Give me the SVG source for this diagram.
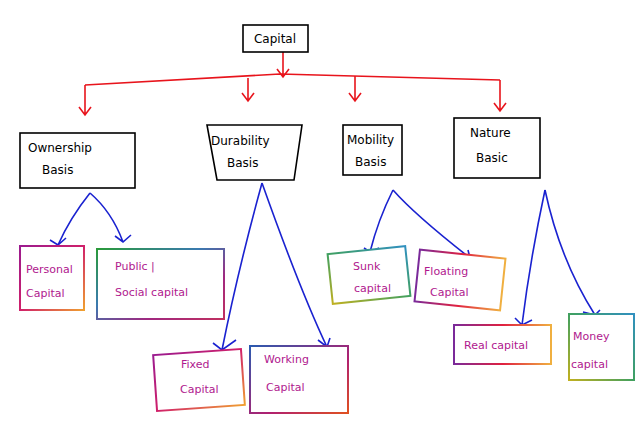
<svg xmlns="http://www.w3.org/2000/svg" width="640" height="426" viewBox="0 0 640 426">
<defs>
<linearGradient id="g1" x1="0" y1="0" x2="1" y2="1"><stop offset="0" stop-color="#9b1b8f"/><stop offset="0.5" stop-color="#d0206a"/><stop offset="1" stop-color="#f0a030"/></linearGradient>
<linearGradient id="g2" x1="0" y1="0" x2="1" y2="1"><stop offset="0" stop-color="#2a9a3a"/><stop offset="0.4" stop-color="#3a7ab0"/><stop offset="0.7" stop-color="#a02880"/><stop offset="1" stop-color="#c03060"/></linearGradient>
<linearGradient id="g3" x1="0" y1="0" x2="1" y2="1"><stop offset="0" stop-color="#2a5ab0"/><stop offset="0.6" stop-color="#b02070"/><stop offset="1" stop-color="#e05020"/></linearGradient>
<linearGradient id="g4" x1="0" y1="0" x2="1" y2="0"><stop offset="0" stop-color="#7a2a9a"/><stop offset="0.5" stop-color="#e02040"/><stop offset="1" stop-color="#f0b040"/></linearGradient>
<linearGradient id="g5" x1="0" y1="1" x2="1" y2="0"><stop offset="0" stop-color="#c0b020"/><stop offset="0.5" stop-color="#40a060"/><stop offset="1" stop-color="#3090c0"/></linearGradient>
</defs>
<style>
.b{fill:#fff;stroke:#000;stroke-width:1.6}
.l{fill:#fff;stroke-width:2}
.t{font-family:"DejaVu Sans",sans-serif;font-size:12px;fill:#000}
.m{font-family:"DejaVu Sans",sans-serif;font-size:11px;fill:#b0188e}
.r{fill:none;stroke:#e8141c;stroke-width:1.6}
.u{fill:none;stroke:#1a22d0;stroke-width:1.6}
</style>
<rect width="640" height="426" fill="#fff"/>
<g id="connectors">
<path class="r" d="M283,52 V77 M277,69 L283,77 L289,69"/>
<path class="r" d="M85,85 L280,74 L500,80"/>
<path class="r" d="M85,85 V115 M79,107 L85,115 L91,107"/>
<path class="r" d="M248,78 V101 M242,93 L248,101 L254,93"/>
<path class="r" d="M355,76 V101 M349,93 L355,101 L361,93"/>
<path class="r" d="M500,80 V111 M494,103 L500,111 L506,103"/>
<path class="u" d="M90,193 Q70,218 58,245 M50,240 L58,245 L66,238"/>
<path class="u" d="M90,193 Q112,212 123,242 M115,236 L123,242 L131,235"/>
<path class="u" d="M262,183 Q238,270 222,350 M213,343 L222,350 L236,340"/>
<path class="u" d="M262,183 Q300,290 327,347 M318,340 L327,347 L330,338"/>
<path class="u" d="M393,190 Q378,220 370,252 M364,248 L370,252 L379,248"/>
<path class="u" d="M393,190 Q415,215 470,258 M463,255 L470,258 L468,250"/>
<path class="u" d="M545,190 Q530,260 522,325 M515,318 L522,325 L532,320"/>
<path class="u" d="M545,190 Q560,260 595,315 M583,312 L595,315 L600,310"/>
</g>
<g id="capital"><rect class="b" x="243" y="25" width="65" height="27"/><text class="t" x="275" y="43" text-anchor="middle">Capital</text></g>
<g id="ownership"><rect class="b" x="20" y="133" width="115" height="55"/><text class="t" x="28" y="152">Ownership</text><text class="t" x="42" y="174">Basis</text></g>
<g id="durability"><path class="b" d="M207,125 H302 L294,180 H217 Z"/><text class="t" x="211" y="145">Durability</text><text class="t" x="227" y="167">Basis</text></g>
<g id="mobility"><rect class="b" x="343" y="125" width="59" height="50"/><text class="t" x="347" y="144">Mobility</text><text class="t" x="355" y="166">Basis</text></g>
<g id="nature"><rect class="b" x="454" y="118" width="86" height="60"/><text class="t" x="470" y="137">Nature</text><text class="t" x="476" y="162">Basic</text></g>
<g id="personal"><rect class="l" stroke="url(#g1)" x="20" y="246" width="64" height="64"/><text class="m" x="26" y="273">Personal</text><text class="m" x="26" y="297">Capital</text></g>
<g id="public"><rect class="l" stroke="url(#g2)" x="97" y="249" width="127" height="70"/><text class="m" x="115" y="270">Public |</text><text class="m" x="115" y="296">Social capital</text></g>
<g id="fixed"><rect class="l" stroke="url(#g1)" x="155" y="352" width="88" height="56" transform="rotate(-4 199 380)"/><text class="m" x="181" y="368">Fixed</text><text class="m" x="180" y="393">Capital</text></g>
<g id="working"><rect class="l" stroke="url(#g3)" x="250" y="346" width="98" height="67"/><text class="m" x="264" y="363">Working</text><text class="m" x="266" y="391">Capital</text></g>
<g id="sunk"><rect class="l" stroke="url(#g5)" x="330" y="250" width="78" height="50" transform="rotate(-6 369 275)"/><text class="m" x="353" y="270">Sunk</text><text class="m" x="354" y="292">capital</text></g>
<g id="floating"><rect class="l" stroke="url(#g4)" x="417" y="254" width="86" height="52" transform="rotate(6 460 280)"/><text class="m" x="424" y="275">Floating</text><text class="m" x="430" y="296">Capital</text></g>
<g id="real"><rect class="l" stroke="url(#g4)" x="454" y="325" width="97" height="39"/><text class="m" x="464" y="349">Real capital</text></g>
<g id="money"><rect class="l" stroke="url(#g5)" x="569" y="314" width="65" height="66"/><text class="m" x="573" y="340">Money</text><text class="m" x="571" y="368">capital</text></g>
</svg>
